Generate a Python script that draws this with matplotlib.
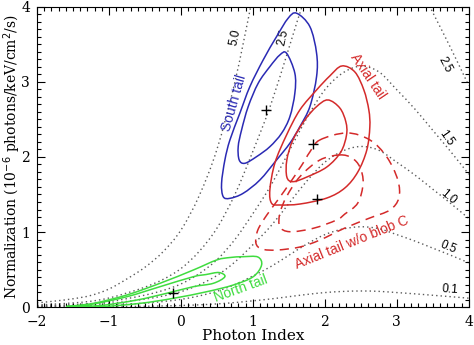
import matplotlib
matplotlib.use("Agg")
import matplotlib.pyplot as plt
from matplotlib.path import Path
from matplotlib.patches import PathPatch
from matplotlib.ticker import MultipleLocator

# Normalization per unit flux along the constant-flux loci, tabulated vs photon index
gamma_grid = [-2.0, -1.75, -1.5, -1.25, -1.0, -0.75, -0.5, -0.25, 0.0, 0.25,
              0.5, 0.75, 1.0, 1.25, 1.5, 1.75, 2.0, 2.25, 2.5, 2.75,
              3.0, 3.25, 3.5, 3.75, 4.0]
norm_per_flux = [0.011, 0.016, 0.022, 0.031, 0.048, 0.075, 0.106, 0.147, 0.205, 0.295,
                 0.42, 0.60, 0.83, 1.08, 1.38, 1.68, 1.93, 2.08, 2.14, 2.09,
                 1.93, 1.76, 1.57, 1.38, 1.18]
flux_levels = [5.0, 2.5, 1.5, 1.0, 0.5, 0.1]

# flux label placement: (level text, x, y, rotation)
flux_labels = [("5.0", 0.76, 3.59, 78), ("2.5", 1.42, 3.59, 78),
               ("2.5", 3.67, 3.23, -62), ("1.5", 3.69, 2.25, -55),
               ("1.0", 3.71, 1.47, -40), ("0.5", 3.71, 0.79, -22),
               ("0.1", 3.74, 0.23, -4)]

# confidence contours (photon index, normalization)
south_outer_x = [1.607, 1.792, 1.885, 1.885, 1.792, 1.653, 1.514, 1.329, 1.097, 0.865,
                 0.681, 0.588, 0.565, 0.611, 0.681, 0.819, 0.958, 1.143, 1.329, 1.490]
south_outer_y = [3.916, 3.737, 3.383, 3.071, 2.671, 2.404, 2.183, 1.960, 1.693, 1.516,
                 1.449, 1.471, 1.649, 1.960, 2.227, 2.583, 2.937, 3.293, 3.604, 3.849]
south_inner_x = [1.468, 1.583, 1.583, 1.514, 1.399, 1.236, 1.051, 0.889, 0.810, 0.796,
                 0.843, 0.935, 1.074, 1.236, 1.375]
south_inner_y = [3.383, 3.116, 2.849, 2.537, 2.316, 2.137, 2.004, 1.916, 1.960, 2.137,
                 2.360, 2.671, 2.983, 3.204, 3.360]

axial_outer_x = [2.236, 2.417, 2.542, 2.611, 2.625, 2.583, 2.458, 2.278, 2.028, 1.653,
                 1.375, 1.260, 1.236, 1.306, 1.468, 1.653, 1.885, 2.069]
axial_outer_y = [3.213, 3.133, 2.893, 2.627, 2.400, 2.093, 1.800, 1.587, 1.453, 1.373,
                 1.360, 1.383, 1.560, 1.920, 2.293, 2.627, 2.893, 3.080]
axial_inner_x = [2.042, 2.208, 2.292, 2.301, 2.222, 2.028, 1.750, 1.556, 1.472, 1.472,
                 1.556, 1.722, 1.885]
axial_inner_y = [2.760, 2.653, 2.467, 2.293, 2.067, 1.867, 1.733, 1.671, 1.733, 1.960,
                 2.227, 2.493, 2.671]

noblob_outer_x = [1.931, 2.306, 2.625, 2.861, 3.014, 3.028, 2.903, 2.625, 2.278, 1.931,
                  1.653, 1.333, 1.125, 1.042, 1.069, 1.194, 1.347, 1.514, 1.681, 1.792]
noblob_outer_y = [2.227, 2.320, 2.227, 2.000, 1.693, 1.453, 1.293, 1.187, 1.053, 0.893,
                  0.800, 0.760, 0.773, 0.853, 1.027, 1.227, 1.427, 1.653, 1.893, 2.067]
noblob_inner_x = [2.208, 2.375, 2.486, 2.532, 2.458, 2.278, 2.163, 1.838, 1.514, 1.375,
                  1.375, 1.468, 1.653, 1.931]
noblob_inner_y = [2.027, 1.987, 1.867, 1.653, 1.387, 1.240, 1.160, 1.049, 1.004, 1.071,
                  1.249, 1.471, 1.737, 1.960]

north_outer_x = [1.121, 1.069, 0.865, 0.681, 0.496, 0.171, -0.292, -0.754, -1.218, -1.588,
                 -1.125, -0.569, -0.107, 0.357, 0.726, 1.004]
north_outer_y = [0.560, 0.667, 0.671, 0.660, 0.627, 0.493, 0.316, 0.160, 0.049, 0.004,
                 0.004, 0.049, 0.116, 0.204, 0.293, 0.404]
north_inner_x = [0.611, 0.528, 0.347, 0.171, -0.292, -0.754, -1.264, -1.588,
                 -1.125, -0.615, -0.199, 0.171, 0.449]
north_inner_y = [0.404, 0.460, 0.433, 0.404, 0.271, 0.137, 0.033, 0.007,
                 0.020, 0.093, 0.183, 0.271, 0.316]

# best-fit positions
best_x = [1.18, 1.838, 1.885, -0.107]
best_y = [2.63, 2.169, 1.436, 0.183]

BLUE = "#2a2ab4"
RED = "#d42a2a"
GREEN = "#3fdc3f"
DOT = "#5a5a5a"
SERIF = "DejaVu Serif"
SANS = "Liberation Sans"


def smooth_path(xs, ys, closed=True):
    """Cubic Bezier path passing through the given vertices (Catmull-Rom tangents)."""
    pts = list(zip(xs, ys))
    n = len(pts)

    def p(i):
        if closed:
            return pts[i % n]
        return pts[min(max(i, 0), n - 1)]

    verts = [pts[0]]
    codes = [Path.MOVETO]
    nseg = n if closed else n - 1
    for i in range(nseg):
        p0, p1, p2, p3 = p(i - 1), p(i), p(i + 1), p(i + 2)
        c1 = (p1[0] + (p2[0] - p0[0]) / 6.0, p1[1] + (p2[1] - p0[1]) / 6.0)
        c2 = (p2[0] - (p3[0] - p1[0]) / 6.0, p2[1] - (p3[1] - p1[1]) / 6.0)
        verts += [c1, c2, p2]
        codes += [Path.CURVE4] * 3
    return Path(verts, codes)


fig = plt.figure(figsize=(4.74, 3.45), dpi=100)
ax = fig.add_axes([0.078, 0.110, 0.911, 0.870])

for level in flux_levels:
    path = smooth_path(gamma_grid, [level * v for v in norm_per_flux], closed=False)
    ax.add_patch(PathPatch(path, fill=False, edgecolor=DOT, linestyle=(0, (1, 2.2)),
                           linewidth=1.0, zorder=1))

for txt, x, y, rot in flux_labels:
    ax.text(x, y, txt, fontsize=8.5, family=SANS, rotation=rot,
            ha="center", va="center", rotation_mode="anchor", color="black")

solid = dict(fill=False, linewidth=1.1, zorder=3)
dashed = dict(fill=False, linewidth=1.1, linestyle=(0, (6, 4)), zorder=3)

contours = [
    (south_outer_x, south_outer_y, BLUE, solid),
    (south_inner_x, south_inner_y, BLUE, solid),
    (axial_outer_x, axial_outer_y, RED, solid),
    (axial_inner_x, axial_inner_y, RED, solid),
    (noblob_outer_x, noblob_outer_y, RED, dashed),
    (noblob_inner_x, noblob_inner_y, RED, dashed),
    (north_outer_x, north_outer_y, GREEN, solid),
    (north_inner_x, north_inner_y, GREEN, solid),
]
for xs, ys, col, style in contours:
    ax.add_patch(PathPatch(smooth_path(xs, ys), edgecolor=col, **style))

ax.plot(best_x, best_y, linestyle="none", marker="+", markersize=7,
        markeredgewidth=1.0, color="black", zorder=4)

lab = dict(fontsize=10, family=SANS, ha="center", va="center",
           rotation_mode="anchor")
ax.text(0.74, 2.72, "South tail", color=BLUE, rotation=74, **lab)
ax.text(2.60, 3.08, "Axial tail", color=RED, rotation=-56, **lab)
ax.text(2.37, 0.86, "Axial tail w/o blob C", color=RED, rotation=22, **lab)
ax.text(0.84, 0.24, "North tail", color=GREEN, rotation=20, **lab)

ax.set_xlim(-2, 4)
ax.set_ylim(0, 4)
ax.xaxis.set_major_locator(MultipleLocator(1))
ax.xaxis.set_minor_locator(MultipleLocator(0.1))
ax.yaxis.set_major_locator(MultipleLocator(1))
ax.yaxis.set_minor_locator(MultipleLocator(0.1))
ax.tick_params(which="both", direction="in", top=True, right=True, width=0.8)
ax.tick_params(which="major", length=6)
ax.tick_params(which="minor", length=3)
ax.tick_params(axis="x", which="major", pad=6)
ax.tick_params(axis="y", which="major", pad=5)
for lbl in ax.get_xticklabels() + ax.get_yticklabels():
    lbl.set_family(SERIF)
    lbl.set_fontsize(10)
for s in ax.spines.values():
    s.set_linewidth(0.8)

ax.set_xlabel("Photon Index", family=SERIF, fontsize=11, labelpad=0)
ax.set_ylabel(r"Normalization (10$^{-6}$ photons/keV/cm$^{2}$/s)",
              family=SERIF, fontsize=10, ha="center", va="center")
ax.yaxis.set_label_coords(-0.058, 0.5)

fig.savefig("out.png", dpi=100)
